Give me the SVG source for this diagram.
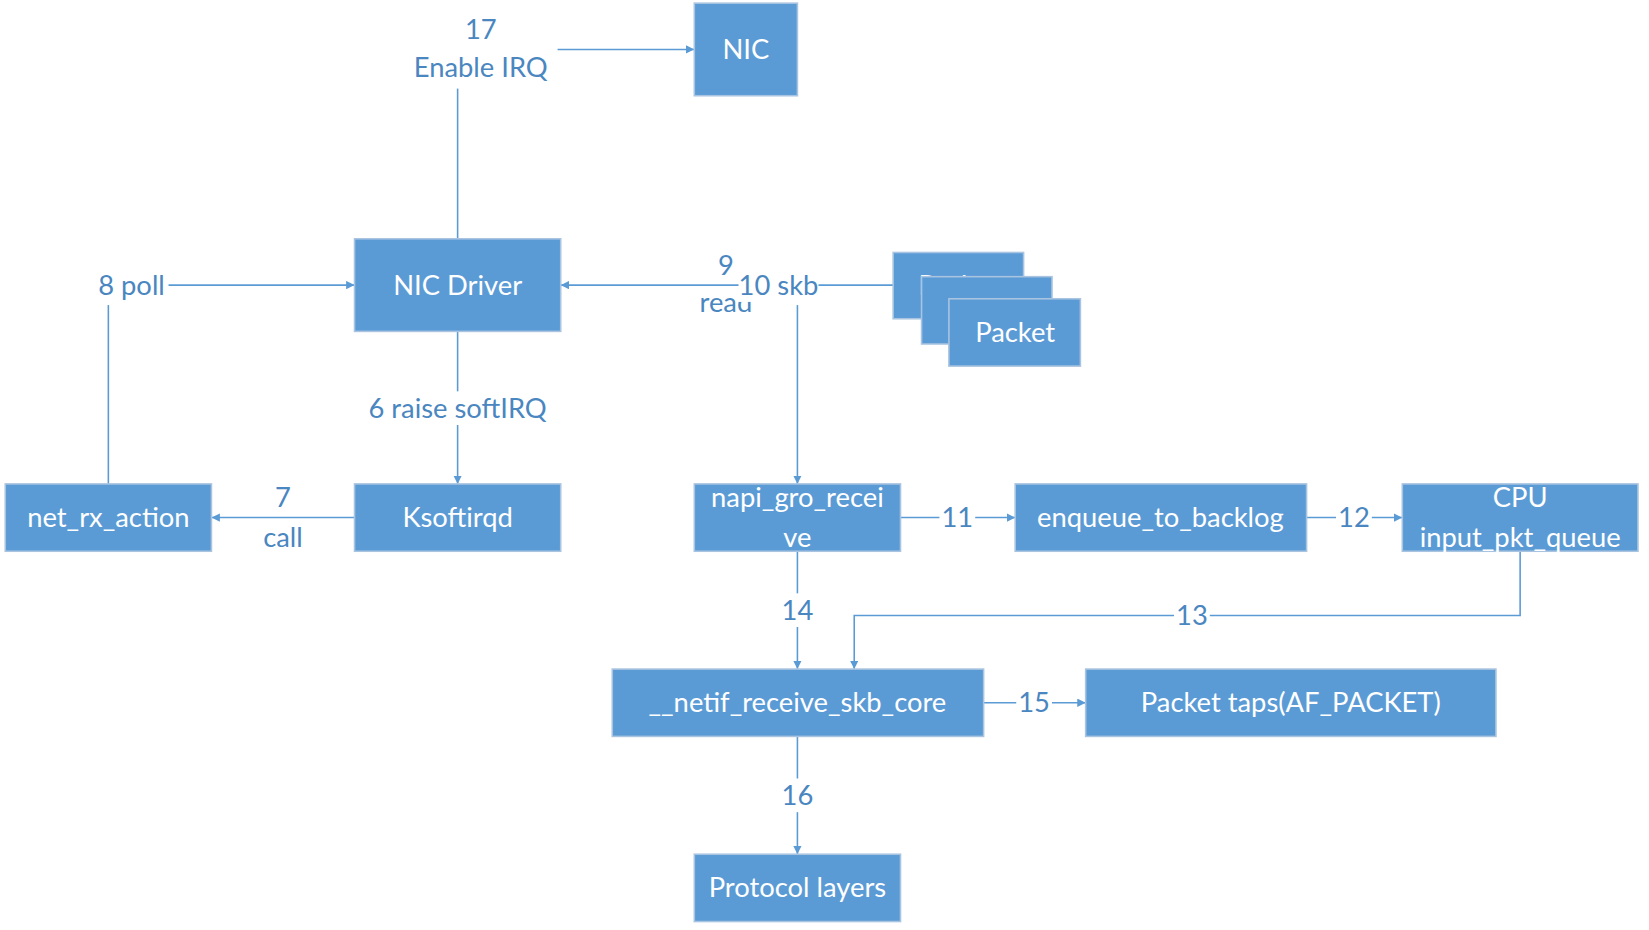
<svg xmlns="http://www.w3.org/2000/svg" width="1649" height="930" viewBox="0 0 1649 930">
<style>
.n{fill:#5b9bd5;stroke:#a9c4e0;stroke-width:1.5}
.t{font-family:Lato,"Open Sans",sans-serif;font-size:26px;fill:#fff;text-anchor:middle}
.l{font-family:Lato,"Open Sans",sans-serif;font-size:26px;fill:#4a86c0;text-anchor:middle}
.c{fill:none;stroke:#5b9bd5;stroke-width:1.5}
</style>
<defs><marker id="a" viewBox="0 0 10 10" refX="10" refY="5" markerWidth="8" markerHeight="8" orient="auto" markerUnits="userSpaceOnUse"><path d="M0,0L10,5L0,10z" fill="#5b9bd5"/></marker></defs>
<rect width="1649" height="930" fill="#fff"/>
<g transform="scale(1.052)">
<g id="connectors">
<path class="c" d="M435,227V84"/><path class="c" d="M525,47H660" marker-end="url(#a)"/>
<path class="c" d="M103,460V290"/><path class="c" d="M160,271H337" marker-end="url(#a)"/>
<path class="c" d="M849,271H533" marker-end="url(#a)"/>
<path class="c" d="M758,290V460" marker-end="url(#a)"/>
<path class="c" d="M435,315V460" marker-end="url(#a)"/>
<path class="c" d="M337,492H201" marker-end="url(#a)"/>
<path class="c" d="M856,492H965" marker-end="url(#a)"/>
<path class="c" d="M1242,492H1333" marker-end="url(#a)"/>
<path class="c" d="M1445,524V585H812V636" marker-end="url(#a)"/>
<path class="c" d="M758,524V636" marker-end="url(#a)"/>
<path class="c" d="M935,668H1032" marker-end="url(#a)"/>
<path class="c" d="M758,700V812" marker-end="url(#a)"/>
<g>
<rect x="385" y="8" width="145" height="76" fill="#fff"/>
<text class="l" x="457" y="37">17</text><text class="l" x="457" y="73">Enable IRQ</text>
<rect x="88" y="255" width="72" height="32" fill="#fff"/><text class="l" x="125" y="280">8 poll</text>
<text class="l" x="690" y="261">9</text><text class="l" x="690" y="297">read</text>
<rect x="702" y="255" width="76" height="32" fill="#fff"/><text class="l" x="740" y="280">10 skb</text>
<rect x="343" y="372" width="184" height="32" fill="#fff"/><text class="l" x="435" y="397">6 raise softIRQ</text>
<text class="l" x="269" y="482">7</text><text class="l" x="269" y="520">call</text>
<rect x="893" y="476" width="34" height="32" fill="#fff"/><text class="l" x="910" y="501">11</text>
<rect x="1270" y="476" width="34" height="32" fill="#fff"/><text class="l" x="1287" y="501">12</text>
<rect x="1116" y="569" width="34" height="32" fill="#fff"/><text class="l" x="1133" y="594">13</text>
<rect x="741" y="564" width="34" height="32" fill="#fff"/><text class="l" x="758" y="589">14</text>
<rect x="966" y="652" width="34" height="32" fill="#fff"/><text class="l" x="983" y="677">15</text>
<rect x="741" y="740" width="34" height="32" fill="#fff"/><text class="l" x="758" y="765">16</text>
</g>
</g>
<g id="nic"><rect class="n" x="660" y="3" width="98" height="88"/><text class="t" x="709" y="56">NIC</text></g>
<g id="driver"><rect class="n" x="337" y="227" width="196" height="88"/><text class="t" x="435" y="280">NIC Driver</text></g>
<g id="packets">
<rect class="n" x="849" y="240" width="124" height="63"/><text class="t" x="911" y="280">Packet</text>
<rect class="n" x="876" y="263" width="124" height="64"/><text class="t" x="938" y="304">Packet</text>
<rect class="n" x="902" y="284" width="125" height="64"/><text class="t" x="965" y="325">Packet</text>
</g>
<g id="netrx"><rect class="n" x="5" y="460" width="196" height="64"/><text class="t" x="103" y="501">net_rx_action</text></g>
<g id="ksoft"><rect class="n" x="337" y="460" width="196" height="64"/><text class="t" x="435" y="501">Ksoftirqd</text></g>
<g id="napi"><rect class="n" x="660" y="460" width="196" height="64"/><text class="t" x="758" y="482">napi_gro_recei</text><text class="t" x="758" y="520">ve</text></g>
<g id="enqueue"><rect class="n" x="965" y="460" width="277" height="64"/><text class="t" x="1103" y="501">enqueue_to_backlog</text></g>
<g id="cpu"><rect class="n" x="1333" y="460" width="224" height="64"/><text class="t" x="1445" y="482">CPU</text><text class="t" x="1445" y="520">input_pkt_queue</text></g>
<g id="netif"><rect class="n" x="582" y="636" width="353" height="64"/><text class="t" x="758" y="677">__netif_receive_skb_core</text></g>
<g id="taps"><rect class="n" x="1032" y="636" width="390" height="64"/><text class="t" x="1227" y="677">Packet taps(AF_PACKET)</text></g>
<g id="proto"><rect class="n" x="660" y="812" width="196" height="64"/><text class="t" x="758" y="853">Protocol layers</text></g>
</g>
</svg>
